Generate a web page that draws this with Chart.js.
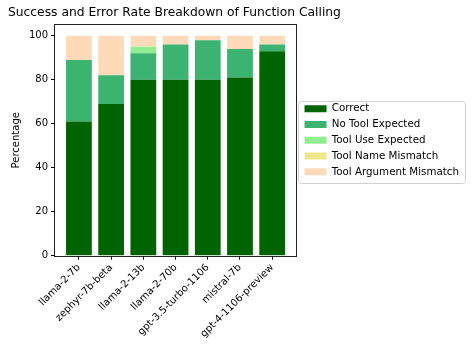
<!DOCTYPE html>
<html>
<head>
<meta charset="utf-8">
<script src="https://cdn.jsdelivr.net/npm/chart.js@4"></script>
<style>
  html, body { margin: 0; padding: 0; background: #fff; }
  #wrap { width: 474px; height: 350px; }
</style>
</head>
<body>
<div id="wrap"><canvas id="chart"></canvas></div>
<script>
const categories = ['llama-2-7b', 'zephyr-7b-beta', 'llama-2-13b', 'llama-2-70b', 'gpt-3.5-turbo-1106', 'mistral-7b', 'gpt-4-1106-preview'];
const correct = [61, 69, 80, 80, 80, 81, 93];
const noToolExpected = [28, 13, 12, 16, 18, 13, 3];
const toolUseExpected = [0, 0, 3, 0, 0, 0, 0];
const toolNameMismatch = [0, 0, 0, 0, 0, 0, 0];
const toolArgMismatch = [11, 18, 5, 4, 2, 6, 4];
const yTicks = [0, 20, 40, 60, 80, 100];

const toPoints = (arr) => arr.map((v, i) => ({ x: i, y: v }));

// frame around plot area + legend box
const framePlugin = {
    id: 'frame',
    afterLayout(chart) {
        // center legend on the plot area, nudge it a bit right
        const lg = chart.legend, a = chart.chartArea;
        lg.top = a.top;
        lg.bottom = a.bottom;
        lg.height = a.bottom - a.top;
        lg.left += 3;
        lg.right += 3;
    },
    afterDatasetsDraw(chart) {
        const { ctx, chartArea: a } = chart;
        ctx.save();
        ctx.strokeStyle = '#222';
        ctx.lineWidth = 1;
        ctx.strokeRect(Math.round(a.left) - 0.5, Math.round(a.top) - 0.5,
            Math.round(a.right - a.left) + 1, Math.round(a.bottom - a.top) + 1);
        ctx.restore();
    },
    afterDraw(chart) {
        const boxes = chart.legend && chart.legend.legendHitBoxes;
        if (!boxes || !boxes.length) return;
        const ctx = chart.ctx;
        let l = Infinity, t = Infinity, r = -Infinity, b = -Infinity;
        boxes.forEach(h => {
            l = Math.min(l, h.left); t = Math.min(t, h.top);
            r = Math.max(r, h.left + h.width); b = Math.max(b, h.top + h.height);
        });
        l -= 7; t -= 3; r += 6; b += 5;
        ctx.save();
        ctx.strokeStyle = '#d0d0d0';
        ctx.lineWidth = 1;
        ctx.beginPath();
        ctx.roundRect(Math.round(l) + 0.5, Math.round(t) + 0.5, Math.round(r - l), Math.round(b - t), 3);
        ctx.stroke();
        ctx.restore();
    }
};

Chart.defaults.font.family = '"DejaVu Sans", sans-serif';
Chart.defaults.font.size = 10;
Chart.defaults.color = '#000';

new Chart(document.getElementById('chart'), {
    type: 'bar',
    data: {
        datasets: [
            { label: 'Correct', data: toPoints(correct), backgroundColor: '#006400' },
            { label: 'No Tool Expected', data: toPoints(noToolExpected), backgroundColor: '#3cb371' },
            { label: 'Tool Use Expected', data: toPoints(toolUseExpected), backgroundColor: '#90ee90' },
            { label: 'Tool Name Mismatch', data: toPoints(toolNameMismatch), backgroundColor: '#f0e68c' },
            { label: 'Tool Argument Mismatch', data: toPoints(toolArgMismatch), backgroundColor: '#ffdab9' }
        ]
    },
    options: {
        responsive: true,
        maintainAspectRatio: false,
        animation: false,
        layout: { padding: { left: 8, right: 8, top: 2, bottom: 8 } },
        datasets: { bar: { barPercentage: 0.8, categoryPercentage: 1.0, borderWidth: 0 } },
        plugins: {
            title: {
                display: true,
                text: 'Success and Error Rate Breakdown of Function Calling',
                align: 'start',
                font: { size: 12.3, weight: 'normal' },
                color: '#000',
                padding: { top: 3, bottom: 5 }
            },
            legend: {
                position: 'right',
                maxWidth: 220,
                labels: {
                    boxWidth: 22,
                    boxHeight: 7,
                    padding: 5.5,
                    font: { size: 10.3 },
                    color: '#000'
                }
            },
            tooltip: { enabled: false }
        },
        scales: {
            x: {
                type: 'linear',
                stacked: true,
                offset: false,
                min: -0.74,
                max: 6.74,
                grid: { offset: false, drawOnChartArea: false, drawTicks: true, tickLength: 4, color: '#000' },
                border: { display: false },
                ticks: {
                    stepSize: 1,
                    includeBounds: false,
                    autoSkip: false,
                    maxRotation: 45,
                    minRotation: 45,
                    padding: 2,
                    callback: (v) => categories[v] !== undefined ? categories[v] : ''
                }
            },
            y: {
                stacked: true,
                min: 0,
                max: 105,
                grid: { drawOnChartArea: false, drawTicks: true, tickLength: 4, color: '#000' },
                border: { display: false },
                afterBuildTicks: (axis) => { axis.ticks = yTicks.map(v => ({ value: v })); },
                ticks: { padding: 3 },
                title: { display: true, text: 'Percentage', font: { size: 10 }, padding: { top: 2, bottom: 4 } }
            }
        }
    },
    plugins: [framePlugin]
});
</script>
</body>
</html>
